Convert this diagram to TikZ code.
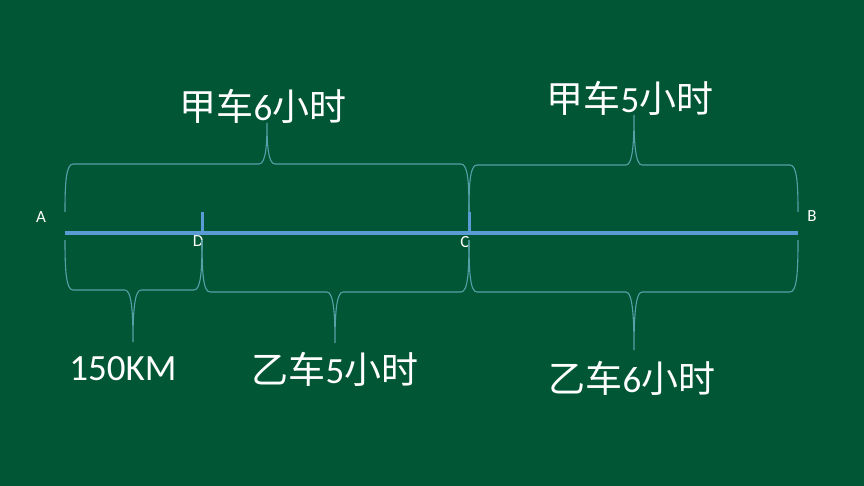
\documentclass[tikz,border=0pt]{standalone}
\usepackage{fontspec}
\setmainfont{Carlito}
\newfontfamily\cjk{Noto Sans CJK SC}
\usetikzlibrary{calc,positioning}
\definecolor{board}{RGB}{1,86,53}
\definecolor{roadblue}{RGB}{91,155,213}
\definecolor{bracecol}{RGB}{86,160,168}
\tikzset{%
	road/.style     = {line width=3.8pt, roadblue}, % the route
	tickline/.style = {line width=3pt, roadblue},
	bracket/.style  = {bracecol, line width=1.1pt},
	lbl/.style      = {text=white, inner sep=0pt, font=\fontsize{37}{40}\selectfont},
	pointlbl/.style = {text=white, inner sep=0pt, font=\fontsize{17}{18}\selectfont},
}
\newcommand{\hz}[1]{{\cjk #1}}
% x1, x2, x tip, y end, y flat, y tip
\newcommand{\curly}[6]{%
	\draw[bracket] (#1,#4) .. controls (#1,{#5+0.4*(#4-#5)}) and ({#1+1},#5) .. ({#1+8},#5)
		-- ({#3-8},#5) .. controls ({#3-1},#5) and (#3,{#5+0.5*(#6-#5)}) .. (#3,#6)
		.. controls (#3,{#5+0.5*(#6-#5)}) and ({#3+1},#5) .. ({#3+8},#5)
		-- ({#2-8},#5) .. controls ({#2-1},#5) and (#2,{#5+0.4*(#4-#5)}) .. (#2,#4);}

\begin{document}
\begin{tikzpicture}[x=1pt, y=-1pt]
	\fill[board] (0,0) rectangle (864,486);
	\useasboundingbox (0,0) rectangle (864,486);
	
	\coordinate (A) at (65,233);
	\coordinate (D) at (202,233);
	\coordinate (C) at (469,233);
	\coordinate (B) at (798,233);
	
	\draw[road] (A) -- (B);
	\draw[tickline] (D) -- ++(0,-21);
	\draw[tickline] (C) -- ++(0,-21);
	
	\node[pointlbl] (la) at (41,217) {A};
	\node[pointlbl] (lb) at (812,216) {B};
	\node[pointlbl] (ld) at (198,241) {D};
	\node[pointlbl] (lc) at (465,242) {C};
	
	% braces above
	\curly{65}{469}{267}{212}{164}{123}
	\curly{469}{798}{634}{212}{165}{115}
	% braces below
	\curly{65}{202}{133}{240}{290}{342}
	\curly{202}{469}{335}{240}{292}{343}
	\curly{469}{798}{634}{240}{292}{350}
	
	\node[lbl] (jia6) at (263,106) {\hz{甲车}6\hz{小时}};
	\node[lbl] (jia5) at (630,98) {\hz{甲车}5\hz{小时}};
	\node[lbl] (dist) at (123,369) {150KM};
	\node[lbl] (yi5) at (335,369) {\hz{乙车}5\hz{小时}};
	\node[lbl] (yi6) at (632,378) {\hz{乙车}6\hz{小时}};
\end{tikzpicture}
\end{document}
